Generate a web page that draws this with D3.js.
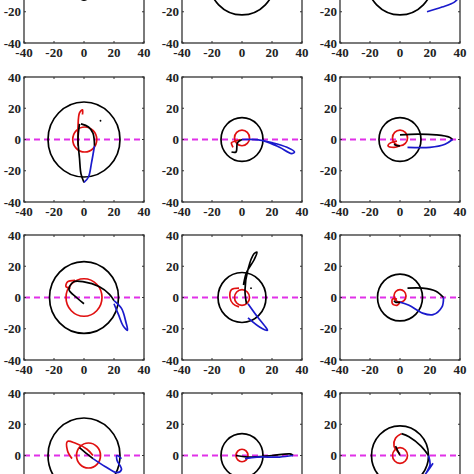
<!DOCTYPE html>
<html><head><meta charset="utf-8">
<script src="https://cdn.jsdelivr.net/npm/d3@7"></script>
<style>body{margin:0;background:#fff} text{font-family:'Liberation Serif','DejaVu Serif',serif;font-weight:bold;font-size:13px;fill:#222}</style></head>
<body><svg id="c" width="474" height="474"></svg>
<script>
const ticks=[-40,-20,0,20,40];
const colLeft=[24,182,340], rowTop=[-82,77,235,393];
const panelW=120, panelH=125;
const panels=[
 {r:0,c:0,R:0,red:null,curves:[{col:"black",pts:[[-2,-12],[0,-12.5],[2,-12]]}]},
 {r:0,c:1,R:22,red:null,curves:[]},
 {r:0,c:2,R:22,red:null,curves:[{col:"blue",pts:[[18,-20],[28,-17],[36,-14],[40,-10]]}]},
 {r:1,c:0,R:24,red:[0.5,0,8],dot:[11,12],curves:[
   {col:"red",pts:[[-4,-4],[-4,8],[-3,17],[-1,19],[-1,16]]},
   {col:"black",pts:[[-3,10],[-4,0],[-3,-12],[-2,-22],[0,-27.5]]},
   {col:"blue",pts:[[0,-27.5],[3,-24],[5,-15],[7,-4]]},
   {col:"black",pts:[[7,-4],[6,4],[3,8],[-2,10]]}]},
 {r:1,c:1,R:14,red:[0,1,5],curves:[
   {col:"red",pts:[[-6,-5],[-7,-2],[-4,-1],[-1,0]]},
   {col:"black",pts:[[-7,-8],[-4,-8],[-3,-2],[0,0]]},
   {col:"blue",pts:[[0,0],[10,0],[20,-2],[30,-5],[35,-8],[33,-9],[25,-5],[15,-1],[5,0]]}]},
 {r:1,c:2,R:14,red:[0,1,5],curves:[
   {col:"black",pts:[[0,3],[12,3.5],[24,3],[33,1.5],[35,0]]},
   {col:"blue",pts:[[35,0],[30,-3],[20,-5],[5,-5]]},
   {col:"red",pts:[[-2,-1],[-6,-2],[-8,-4],[-4,-5],[0,-4]]},
   {col:"black",pts:[[-4,-3],[-2,-4],[0,-4]]}]},
 {r:2,c:0,R:23,red:[0,0,12],curves:[
   {col:"red",pts:[[-6,11],[-11,10],[-12,7],[-9,6]]},
   {col:"black",pts:[[0,-4],[-5,0],[-10,5],[-7,10],[0,10],[10,7],[17,2],[20,-2]]},
   {col:"blue",pts:[[20,-2],[25,-7],[28,-16],[29,-21],[26,-18],[23,-11],[20,-4]]}]},
 {r:2,c:1,R:16,red:[0,0,5],dot:[6,6],curves:[
   {col:"red",pts:[[-2,6],[-7,5],[-8,0],[-6,-4],[-2,-6]]},
   {col:"black",pts:[[3,-4],[2,5],[4,18],[8,28],[10,29],[8,24],[3,16],[1,8]]},
   {col:"blue",pts:[[4,-4],[10,-12],[15,-18],[17,-21],[12,-19],[4,-13]]}]},
 {r:2,c:2,R:15,red:[0,1,4],curves:[
   {col:"red",pts:[[-2,-1],[-5,-1],[-5,-4],[-2,-5],[0,-3]]},
   {col:"black",pts:[[5,6],[15,6],[24,4],[29,0]]},
   {col:"blue",pts:[[29,0],[28,-6],[22,-11],[15,-10],[6,-5],[0,-3]]},
   {col:"black",pts:[[0,-3],[-3,-3],[-4,-2]]}]},
 {r:3,c:0,R:24,red:[3,0,8],curves:[
   {col:"red",pts:[[-8,-2],[-11,3],[-11,9],[-6,8],[2,4],[6,0]]},
   {col:"black",pts:[[-3,5],[2,1],[6,-2]]},
   {col:"blue",pts:[[6,-2],[14,-7],[22,-11],[25,-9],[22,-3],[22,0],[25,-2]]}]},
 {r:3,c:1,R:14,red:[0,0,4],curves:[
   {col:"black",pts:[[-4,0],[4,-1],[20,0],[32,1],[34,0]]},
   {col:"blue",pts:[[34,0],[25,-1],[10,-1],[2,-2]]}]},
 {r:3,c:2,R:19,red:[0,0,5],curves:[
   {col:"red",pts:[[0,1],[-4,6],[-3,11],[1,14]]},
   {col:"black",pts:[[0,0],[-2,4],[-3,6]]},
   {col:"black",pts:[[1,14],[6,12],[14,6],[19,0]]},
   {col:"blue",pts:[[19,0],[20,-6],[17,-12],[22,-5]]}]}
];
const svg=d3.select("#c");
svg.append("defs");
panels.forEach((p,i)=>{
  const x0=colLeft[p.c], y0=rowTop[p.r];
  const x=d3.scaleLinear().domain([-40,40]).range([x0,x0+panelW]);
  const y=d3.scaleLinear().domain([-40,40]).range([y0+panelH,y0]);
  svg.select("defs").append("clipPath").attr("id","cp"+i).append("rect")
    .attr("x",x0).attr("y",y0).attr("width",panelW).attr("height",panelH);
  const g=svg.append("g").attr("clip-path","url(#cp"+i+")");
  g.append("line").attr("x1",x(-40)).attr("x2",x(40)).attr("y1",y(0)).attr("y2",y(0))
    .attr("stroke","#e030e8").attr("stroke-width",2).attr("stroke-dasharray","6,4");
  if(p.R) g.append("ellipse").attr("cx",x(0)).attr("cy",y(0)).attr("rx",x(p.R)-x(0)).attr("ry",y(0)-y(p.R))
    .attr("fill","none").attr("stroke","black").attr("stroke-width",1.7);
  if(p.red) g.append("ellipse").attr("cx",x(p.red[0])).attr("cy",y(p.red[1])).attr("rx",x(p.red[2])-x(0)).attr("ry",y(0)-y(p.red[2]))
    .attr("fill","none").attr("stroke","#e01010").attr("stroke-width",1.7);
  const line=d3.line().x(d=>x(d[0])).y(d=>y(d[1])).curve(d3.curveCatmullRom);
  p.curves.forEach(cv=>g.append("path").attr("d",line(cv.pts)).attr("fill","none")
    .attr("stroke",cv.col==="blue"?"#1a1acc":cv.col==="red"?"#e01010":"black").attr("stroke-width",1.7));
  if(p.dot) g.append("circle").attr("cx",x(p.dot[0])).attr("cy",y(p.dot[1])).attr("r",0.9).attr("fill","black");
  const a=svg.append("g");
  a.append("rect").attr("x",x0).attr("y",y0).attr("width",panelW).attr("height",panelH)
    .attr("fill","none").attr("stroke","#333").attr("stroke-width",1.3);
  ticks.forEach(t=>{
    a.append("line").attr("x1",x(t)).attr("x2",x(t)).attr("y1",y0+panelH).attr("y2",y0+panelH-2).attr("stroke","#333");
    a.append("line").attr("x1",x(t)).attr("x2",x(t)).attr("y1",y0).attr("y2",y0+2).attr("stroke","#333");
    a.append("line").attr("y1",y(t)).attr("y2",y(t)).attr("x1",x0).attr("x2",x0+2).attr("stroke","#333");
    a.append("line").attr("y1",y(t)).attr("y2",y(t)).attr("x1",x0+panelW).attr("x2",x0+panelW-2).attr("stroke","#333");
    a.append("text").attr("x",x(t)).attr("y",y0+panelH+14).attr("text-anchor","middle").text(t);
    a.append("text").attr("x",x0-3).attr("y",y(t)+4.5).attr("text-anchor","end").text(t);
  });
});
</script></body></html>
